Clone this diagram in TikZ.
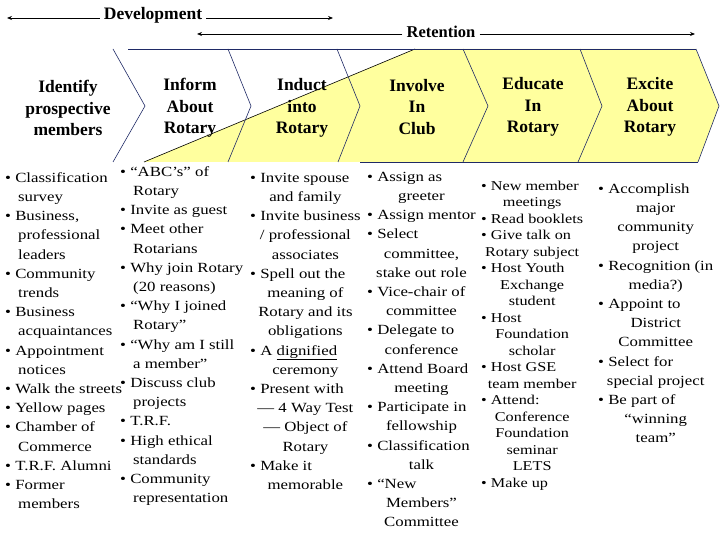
\documentclass[tikz,border=0pt]{standalone}
\usepackage{fontspec}
\setmainfont{Liberation Serif}
\newfontfamily\bodyf{Liberation Serif}[FakeStretch=1.2]
\usetikzlibrary{arrows.meta}
\definecolor{pale}{HTML}{FFFF9E}
\definecolor{navy}{HTML}{1F2A66}
\newcommand{\B}[1]{\multicolumn{1}{@{}l@{}}{•\ #1}}
\newcommand{\C}{\hspace*{13pt}}
\begin{document}
\begin{tikzpicture}[x=1pt,y=-1pt,
  hdr/.style={font=\fontsize{17.5}{21.5}\selectfont\bfseries,align=center,inner sep=0},
  col/.style={anchor=north west,inner sep=0,font=\bodyf\fontsize{14}{19.2}\selectfont},
  cline/.style={navy,line width=0.6pt},
  tip/.style={-{Stealth[length=5pt,width=4pt]},line width=0.8pt}]
\useasboundingbox (0,0) rectangle (720,540);
\fill[white] (0,0) rectangle (720,540);
% yellow area
\fill[pale] (144,162) -- (415,49) -- (696,49) -- (719,106) -- (698,162) -- cycle;
\draw[black,line width=0.6pt] (144,162) -- (415,49);
\draw[cline] (128,49) -- (696,49);
\draw[cline] (360,162) -- (698,162);
\draw[cline] (113,49) -- (145,106) -- (113,162);
\draw[cline] (228,49) -- (251,106) -- (228,162);
\draw[cline] (337,49) -- (360,106) -- (338,162);
\draw[cline] (463,49) -- (488,106) -- (463,162);
\draw[cline] (580,49) -- (602,106) -- (578,162);
\draw[cline] (696,49) -- (719,106) -- (698,162);
% arrows
\node[hdr,font=\fontsize{17.5}{18}\selectfont\bfseries] (dev) at (153,15) {Development};
\coordinate (devL) at (7,18); \coordinate (devR) at (333,18);
\draw[tip] (dev.west|-devL) ++(-4,0) -- (devL);
\draw[tip] (dev.east|-devR) ++(4,0) -- (devR);
\node[hdr,font=\fontsize{16.5}{18}\selectfont\bfseries] (ret) at (441,32) {Retention};
\coordinate (retL) at (197,34); \coordinate (retR) at (695,34);
\draw[tip] (ret.west|-retL) ++(-4,0) -- (retL);
\draw[tip] (ret.east|-retR) ++(4,0) -- (retR);
% headers
\node[hdr] (h1) at (68,108) {Identify\\prospective\\members};
\node[hdr] (h2) at (190,108) {Inform\\About\\Rotary};
\node[hdr] (h3) at (302,108) {Induct\\into\\Rotary};
\node[hdr] (h4) at (417,107) {Involve\\In\\Club};
\node[hdr] (h5) at (533,107) {Educate\\In\\Rotary};
\node[hdr] (h6) at (650,107) {Excite\\About\\Rotary};
% columns
\node[col] (c1) at (5,168.6) {\begin{tabular}{@{}l@{}}
•\ Classification\\ \C survey\\ •\ Business,\\ \C professional\\ \C leaders\\ •\ Community\\ \C trends\\ •\ Business\\ \C acquaintances\\ •\ Appointment\\ \C notices\\ •\ Walk the streets\\ •\ Yellow pages\\ •\ Chamber of\\ \C Commerce\\ •\ T.R.F. Alumni\\ •\ Former\\ \C members\end{tabular}};
\node[col] (c2) at (120,162.6) {\begin{tabular}{@{}l@{}}
•\ “ABC’s” of\\ \C Rotary\\ •\ Invite as guest\\ •\ Meet other\\ \C Rotarians\\ •\ Why join Rotary\\ \C (20 reasons)\\ •\ “Why I joined\\ \C Rotary”\\ •\ “Why am I still\\ \C a member”\\ •\ Discuss club\\ \C projects\\ •\ T.R.F.\\ •\ High ethical\\ \C standards\\ •\ Community\\ \C representation\end{tabular}};
\node[col] (c3) at (250,168.6) {\begin{tabular}{@{}c@{}}
\B{Invite spouse}\\ and family\\ \B{Invite business}\\ / professional\\ associates\\ \B{Spell out the}\\ meaning of\\ Rotary and its\\ obligations\\ \B{A \underline{dignified}}\\ ceremony\\ \B{Present with}\\ — 4 Way Test\\ — Object of\\ Rotary\\ \B{Make it}\\ memorable\end{tabular}};
\node[col] (c4) at (367,167.6) {\begin{tabular}{@{}c@{}}
\B{Assign as}\\ greeter\\ \B{Assign mentor}\\ \B{Select}\\ committee,\\ stake out role\\ \B{Vice-chair of}\\ committee\\ \B{Delegate to}\\ conference\\ \B{Attend Board}\\ meeting\\ \B{Participate in}\\ fellowship\\ \B{Classification}\\ talk\\ \B{“New}\\ Members”\\ Committee\end{tabular}};
\node[col,font=\bodyf\fontsize{13.5}{16.5}\selectfont] (c5) at (481,178.4) {\begin{tabular}{@{}c@{}}
\B{New member}\\ meetings\\ \B{Read booklets}\\ \B{Give talk on}\\ Rotary subject\\ \B{Host Youth}\\ Exchange\\ student\\ \B{Host}\\ Foundation\\ scholar\\ \B{Host GSE}\\ team member\\ \B{Attend:}\\ Conference\\ Foundation\\ seminar\\ LETS\\ \B{Make up}\end{tabular}};
\node[col] (c6) at (598,179.6) {\begin{tabular}{@{}c@{}}
\B{Accomplish}\\ major\\ community\\ project\\ \B{Recognition (in}\\ media?)\\ \B{Appoint to}\\ District\\ Committee\\ \B{Select for}\\ special project\\ \B{Be part of}\\ “winning\\ team”\end{tabular}};
\end{tikzpicture}
\end{document}
